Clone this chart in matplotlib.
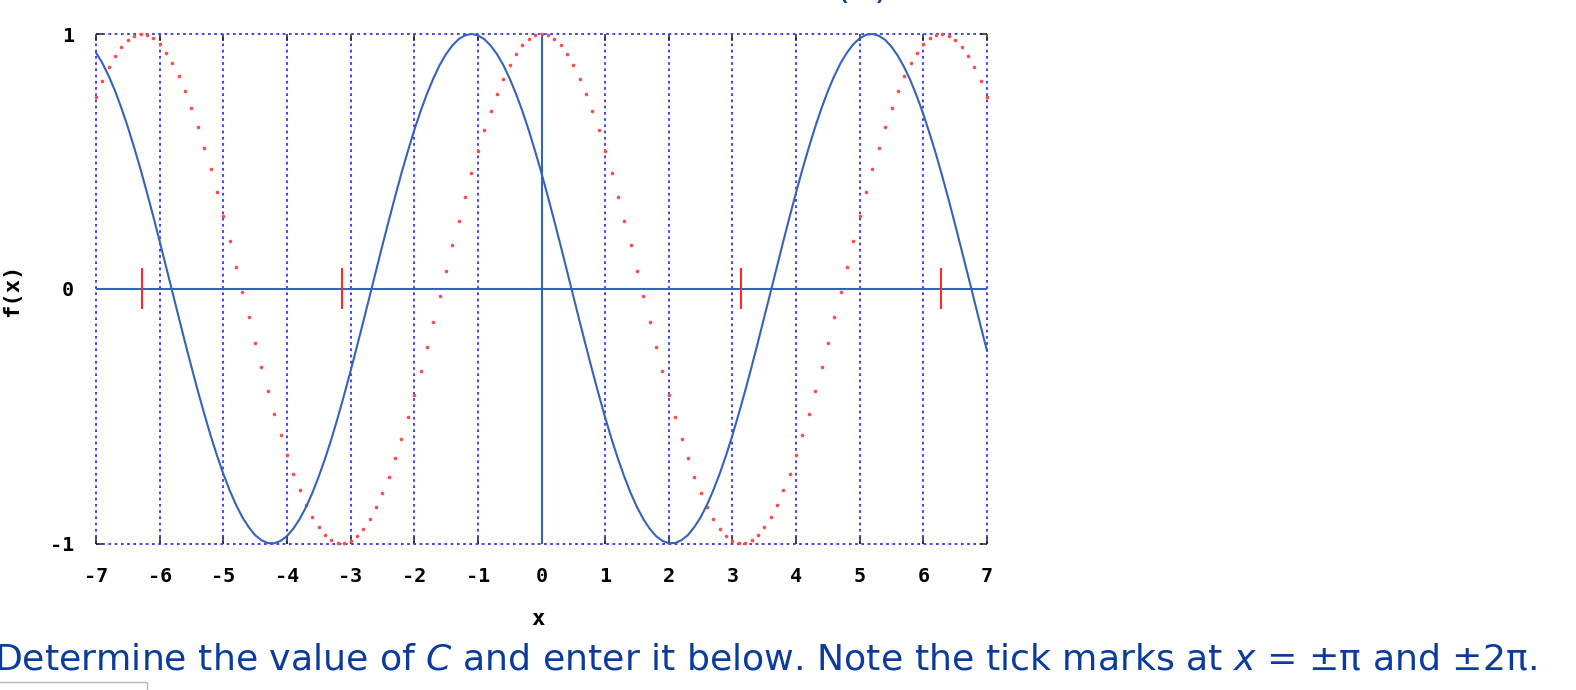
import numpy as np
import matplotlib
matplotlib.use("Agg")
from matplotlib import pyplot as plt
from matplotlib.patches import Rectangle

"""Data"""

# red dotted reference curve, sampled every 0.1 from x=-7 to x=7
red_y = [
    0.754, 0.816, 0.869, 0.914, 0.950, 0.977, 0.993, 1.000, 0.997, 0.983, 0.960,
    0.927, 0.886, 0.835, 0.776, 0.709, 0.635, 0.554, 0.469, 0.378, 0.284,
    0.187, 0.087, -0.012, -0.112, -0.211, -0.307, -0.401, -0.490, -0.575, -0.654,
    -0.726, -0.791, -0.848, -0.897, -0.936, -0.967, -0.987, -0.998, -0.999, -0.990,
    -0.971, -0.942, -0.904, -0.857, -0.801, -0.737, -0.666, -0.589, -0.505, -0.416,
    -0.323, -0.227, -0.129, -0.029, 0.071, 0.170, 0.267, 0.362, 0.454, 0.540,
    0.622, 0.697, 0.765, 0.825, 0.878, 0.921, 0.955, 0.980, 0.995,
    1.000, 0.995, 0.980, 0.955, 0.921, 0.878, 0.825, 0.765, 0.697, 0.622,
    0.540, 0.454, 0.362, 0.267, 0.170, 0.071, -0.029, -0.129, -0.227, -0.323,
    -0.416, -0.505, -0.589, -0.666, -0.737, -0.801, -0.857, -0.904, -0.942, -0.971,
    -0.990, -0.999, -0.998, -0.987, -0.967, -0.936, -0.897, -0.848, -0.791, -0.726,
    -0.654, -0.575, -0.490, -0.401, -0.307, -0.211, -0.112, -0.012, 0.087, 0.187,
    0.284, 0.378, 0.469, 0.554, 0.635, 0.709, 0.776, 0.835, 0.886, 0.927,
    0.960, 0.983, 0.997, 1.000, 0.993, 0.977, 0.950, 0.914, 0.869, 0.816,
    0.754,
]

# blue shifted curve, same 0.1 sampling from x=-7 to x=7
blue_y = [
    0.927, 0.886, 0.835, 0.776, 0.709, 0.635, 0.554, 0.469, 0.378, 0.284,
    0.187, 0.087, -0.012, -0.112, -0.211, -0.307, -0.401, -0.490, -0.575, -0.654,
    -0.726, -0.791, -0.848, -0.897, -0.936, -0.967, -0.987, -0.998, -0.999, -0.990,
    -0.971, -0.942, -0.904, -0.857, -0.801, -0.737, -0.666, -0.589, -0.505, -0.416,
    -0.323, -0.227, -0.129, -0.029, 0.071, 0.170, 0.267, 0.362, 0.454, 0.540,
    0.622, 0.697, 0.765, 0.825, 0.878, 0.921, 0.955, 0.980, 0.995,
    1.000, 0.995, 0.980, 0.955, 0.921, 0.878, 0.825, 0.765, 0.697, 0.622,
    0.540, 0.454, 0.362, 0.267, 0.170, 0.071, -0.029, -0.129, -0.227, -0.323,
    -0.416, -0.505, -0.589, -0.666, -0.737, -0.801, -0.857, -0.904, -0.942, -0.971,
    -0.990, -0.999, -0.998, -0.987, -0.967, -0.936, -0.897, -0.848, -0.791, -0.726,
    -0.654, -0.575, -0.490, -0.401, -0.307, -0.211, -0.112, -0.012, 0.087, 0.187,
    0.284, 0.378, 0.469, 0.554, 0.635, 0.709, 0.776, 0.835, 0.886, 0.927,
    0.960, 0.983, 0.997, 1.000, 0.993, 0.977, 0.950, 0.914, 0.869, 0.816,
    0.754, 0.685, 0.608, 0.527, 0.439, 0.347, 0.251, 0.153, 0.054, -0.046,
    -0.146, -0.244,
]

x_range = (-7, 7)
x_ticks = list(range(-7, 8))
y_ticks = [-1, 0, 1]
pi_marks = [-2 * np.pi, -np.pi, np.pi, 2 * np.pi]

red_x = np.linspace(x_range[0], x_range[1], len(red_y))
blue_x = np.linspace(x_range[0], x_range[1], len(blue_y))

question = (r"Determine the value of $C$ and enter it below. "
            r"Note the tick marks at $x$ = ±π and ±2π.")

"""Style"""
grid_blue = "#4040fa"
line_blue = "#3563b5"
dot_red = "#ff4a4a"
mark_red = "#ff2a2a"
text_blue = "#0b3b9b"

plt.rcParams["axes.unicode_minus"] = False
plt.rcParams["mathtext.fontset"] = "dejavusans"

W, H = 1576, 690
fig = plt.figure(figsize=(W / 100, H / 100), dpi=100)
ax = fig.add_axes([96 / W, 1 - 543.5 / H, (987 - 96) / W, (543.5 - 34) / H])

ax.set_xlim(*x_range)
ax.set_ylim(-1, 1)
for s in ax.spines.values():
    s.set_visible(False)

ax.set_xticks(x_ticks)
ax.set_xticklabels([str(t) for t in x_ticks])
ax.set_yticks(y_ticks)
ax.set_yticklabels([str(t) for t in y_ticks])
ax.tick_params(axis="both", direction="in", length=5, width=1.1, color="#222222",
               top=True, right=True, labelsize=14.5)
ax.tick_params(axis="x", pad=17)
ax.tick_params(axis="y", pad=16)
for lab in ax.get_xticklabels() + ax.get_yticklabels():
    lab.set_fontfamily("DejaVu Sans Mono")
    lab.set_fontweight("bold")

# dotted grid acts as the frame too
ax.grid(True, color=grid_blue, linestyle=(0, (1.4, 1.8)), linewidth=1.4)
for gl in ax.get_xgridlines() + ax.get_ygridlines():
    gl.set_clip_on(False)

# zero axes
ax.axhline(0, color=line_blue, lw=1.5, zorder=3)
ax.axvline(0, color=line_blue, lw=1.5, zorder=3)

# red marks at +-pi, +-2pi
ax.vlines(pi_marks, -0.08, 0.08, color=mark_red, lw=1.5, zorder=4)

# curves
ax.plot(red_x, red_y, linestyle="none", marker="o", markersize=2.6,
        markerfacecolor=dot_red, markeredgecolor="none", zorder=4, clip_on=False)
ax.plot(blue_x, blue_y, color=line_blue, lw=1.5, zorder=5, clip_on=False)

# labels
fig.text(12.5 / W, 1 - 290 / H, "f(x)", rotation=90, ha="center", va="center",
         fontsize=16, fontweight="bold", family="DejaVu Sans Mono")
fig.text(538 / W, 1 - 619 / H, "x", ha="center", va="center",
         fontsize=16, fontweight="bold", family="DejaVu Sans Mono")

# question text under the plot
fig.text(-6 / W, 1 - 669 / H, question, ha="left", va="baseline",
         fontsize=26.1, color=text_blue)

# bit of a heading cut off at the top
fig.text(836 / W, 1 + 1.5 / H, "(C)", ha="left", va="baseline", fontsize=26,
         color=text_blue)

# answer box edge at the bottom left
fig.patches.append(Rectangle((-0.01, -0.05), 0.01 + 147 / W, 0.05 + (H - 682) / H,
                             fill=False, edgecolor="#b8b8b8", lw=1,
                             transform=fig.transFigure))

fig.savefig("out.png", dpi=100)
